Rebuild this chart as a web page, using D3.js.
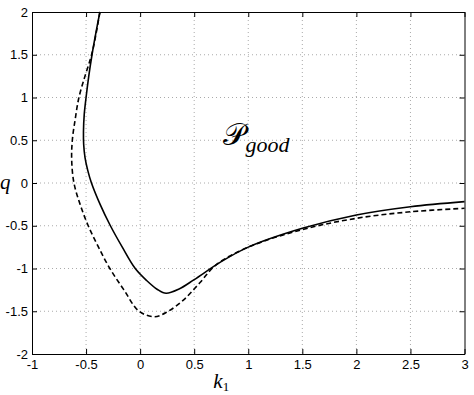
<!DOCTYPE html>
<html>
<head>
<meta charset="utf-8">
<script src="https://cdn.jsdelivr.net/npm/d3@7"></script>
<style>
  body { margin: 0; background: #fff; }
  .axis text { font-family: "Liberation Sans", Arial, sans-serif; font-size: 13px; fill: #000; }
  .axis path, .axis line { stroke: #000; }
</style>
</head>
<body>
<div id="chart"></div>
<script>
// solid boundary (k1, q)
var solidK1 = [-0.372, -0.41, -0.445, -0.475, -0.50, -0.517, -0.524, -0.522, -0.51, -0.485, -0.45, -0.37, -0.275, -0.165, -0.045, 0.06, 0.16, 0.24, 0.36, 0.5, 0.75, 1.0, 1.5, 2.0, 2.5, 3.0];
var solidQ  = [2.0, 1.75, 1.5, 1.25, 1.0, 0.8, 0.6, 0.45, 0.3, 0.15, 0.0, -0.25, -0.5, -0.75, -1.0, -1.14, -1.245, -1.29, -1.24, -1.13, -0.92, -0.75, -0.53, -0.374, -0.277, -0.218];

// dashed boundary (k1, q)
var dashK1 = [-0.372, -0.43, -0.46, -0.51, -0.566, -0.60, -0.627, -0.633, -0.612, -0.555, -0.48, -0.385, -0.28, -0.15, -0.01, 0.136, 0.26, 0.40, 0.55, 0.7, 1.0, 1.5, 2.0, 2.5, 3.0];
var dashQ  = [2.0, 1.6, 1.45, 1.25, 1.0, 0.75, 0.5, 0.27, 0.0, -0.25, -0.5, -0.75, -1.0, -1.25, -1.5, -1.564, -1.5, -1.37, -1.17, -0.96, -0.75, -0.545, -0.413, -0.337, -0.296];

var xTicks = [-1, -0.5, 0, 0.5, 1, 1.5, 2, 2.5, 3];
var yTicks = [-2, -1.5, -1, -0.5, 0, 0.5, 1, 1.5, 2];

function DrawChart(){
    var margin = {top:12,right:9.5,bottom:41,left:32};
    var width = 474 - margin.left - margin.right;
    var height = 395 - margin.top - margin.bottom;

    var x = d3.scaleLinear().domain([-1,3]).range([0,width]);
    var y = d3.scaleLinear().domain([-2,2]).range([height,0]);
    var fmt = function(d){ return String(d); };

    var svg = d3.select("#chart").append("svg")
        .attr("width",474)
        .attr("height",395)
        .append("g")
        .attr("transform","translate("+margin.left+","+margin.top+")");

    // dotted grid
    svg.selectAll(".gx").data(xTicks.slice(1,-1)).enter().append("line")
        .attr("x1",d=>x(d)).attr("x2",d=>x(d))
        .attr("y1",0).attr("y2",height)
        .attr("stroke","#aaa").attr("stroke-dasharray","1,3");
    svg.selectAll(".gy").data(yTicks.slice(1,-1)).enter().append("line")
        .attr("x1",0).attr("x2",width)
        .attr("y1",d=>y(d)).attr("y2",d=>y(d))
        .attr("stroke","#aaa").attr("stroke-dasharray","1,3");

    // axes, ticks pointing inward
    svg.append("g").attr("class","axis")
        .attr("transform","translate(0,"+height+")")
        .call(d3.axisBottom(x).tickValues(xTicks).tickFormat(fmt).tickSize(-5).tickSizeOuter(0).tickPadding(6));
    svg.append("g").attr("class","axis")
        .call(d3.axisBottom(x).tickValues(xTicks).tickFormat("").tickSize(5).tickSizeOuter(0));
    svg.append("g").attr("class","axis")
        .call(d3.axisLeft(y).tickValues(yTicks).tickFormat(fmt).tickSize(-5).tickSizeOuter(0).tickPadding(4));
    svg.append("g").attr("class","axis")
        .attr("transform","translate("+width+",0)")
        .call(d3.axisLeft(y).tickValues(yTicks).tickFormat("").tickSize(5).tickSizeOuter(0));

    var line = d3.line()
        .x(d=>x(d[0]))
        .y(d=>y(d[1]))
        .curve(d3.curveCatmullRom.alpha(0.5));

    svg.append("path")
        .datum(dashK1.map((k,i)=>[k,dashQ[i]]))
        .attr("fill","none").attr("stroke","#000").attr("stroke-width",1.6)
        .attr("stroke-dasharray","5,3")
        .attr("d",line);

    svg.append("path")
        .datum(solidK1.map((k,i)=>[k,solidQ[i]]))
        .attr("fill","none").attr("stroke","#000").attr("stroke-width",1.6)
        .attr("d",line);

    // region label
    var lab = svg.append("text")
        .attr("x",x(0.77)).attr("y",y(0.44))
        .style("font-family","'DejaVu Serif', serif");
    lab.append("tspan").attr("font-size","31px").text("\uD835\uDCAB");
    lab.append("tspan").attr("font-size","22px").attr("font-style","italic").attr("dy",7)
        .style("font-family","'Liberation Serif', serif").text("good");

    // axis labels
    var xl = svg.append("text")
        .attr("x",x(0.75)).attr("y",height+34)
        .attr("text-anchor","middle")
        .style("font-family","'Liberation Serif', serif");
    xl.append("tspan").attr("font-size","21px").attr("font-style","italic").text("k");
    xl.append("tspan").attr("font-size","13px").attr("dy",3).text("1");

    svg.append("text")
        .attr("x",-32).attr("y",y(0)+6)
        .style("font-family","'Liberation Serif', serif")
        .attr("font-size","21px").attr("font-style","italic")
        .text("q");
}

DrawChart();
</script>
</body>
</html>
